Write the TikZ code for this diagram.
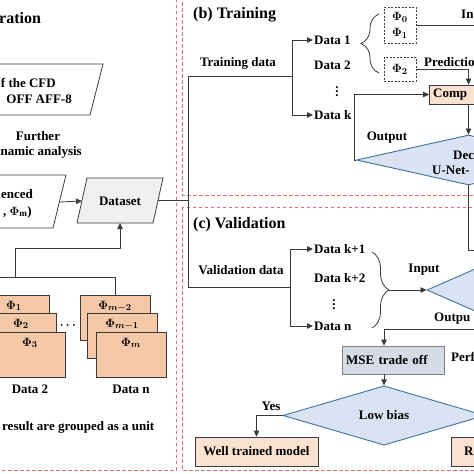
\documentclass[tikz,border=0pt]{standalone}
\usepackage{amsmath}
\usepackage{fontspec}
\setmainfont{Liberation Serif}
\usepackage{tikz}
\usetikzlibrary{arrows.meta, positioning, shapes.geometric, decorations.pathreplacing}

\definecolor{peach}{HTML}{FBE1D0}
\definecolor{phifill}{HTML}{F5C8A8}
\definecolor{diafill}{HTML}{DAE3F3}
\definecolor{diadraw}{HTML}{41719C}
\definecolor{msefill}{HTML}{D6DCE5}
\definecolor{panelred}{HTML}{E46C6C}
\definecolor{lineg}{HTML}{3A3A3A}

\begin{document}
\begin{tikzpicture}[x=1pt, y=-1pt, font=\fontsize{13}{16}\selectfont\bfseries\boldmath,
		panel/.style={draw=panelred, line width=0.8pt, dash pattern=on 3.5pt off 2.5pt},
		title/.style={font=\fontsize{16}{18}\selectfont\bfseries, anchor=west, inner sep=0pt},
		txt/.style={inner sep=1pt},
		para/.style={draw=lineg, line width=0.8pt},
		phibox/.style={draw=lineg, fill=phifill, line width=0.7pt, minimum width=70pt, text height=10pt, text depth=27pt, inner ysep=4pt},
		dashbox/.style={draw=lineg, dash pattern=on 2pt off 1.5pt, line width=0.7pt, minimum width=32pt, align=center, inner sep=2pt},
		process/.style={draw=lineg, fill=peach, line width=0.7pt},
		msebox/.style={draw=gray, fill=msefill, line width=0.7pt},
		decision/.style={draw=diadraw, fill=diafill, diamond, line width=0.9pt, inner sep=0pt},
		conn/.style={draw=lineg, line width=0.8pt},
		flow/.style={conn, -{Triangle[length=6pt, width=5.5pt]}}
		]
		\useasboundingbox (0,0) rectangle (474,474);
		
		\draw[panel] (-10,-10) rectangle (176,470);
		\draw[panel] (182,-10) rectangle (490,195);
		\draw[panel] (182,207) rectangle (490,470);
		
		\node [title](ta) at (-1,18) {ration};
		\node [title](tb) at (193,15) {(b) Training};
		\node [title](tc) at (193,225) {(c) Validation};
		
		\draw[para] (-20,64) -- (103,64) -- (90,115) -- (-30,115);
		\node [txt, anchor=east](cfd1) at (57,83) {f the CFD};
		\node [txt, anchor=east](cfd2) at (73,99) {OFF AFF-8};
		\node [txt](fur1) at (38,136) {Further};
		\node [txt, anchor=east](fur2) at (83,152) {ynamic analysis};
		
		\draw[para] (-20,175) -- (66,175) -- (53,228) -- (-30,228);
		\node [txt, anchor=east](seq1) at (34,194) {uenced};
		\node [txt, anchor=east](seq2) at (33,212) {, $\Phi_{\mathrm{m}}$)};
		\coordinate (seqE) at (59.5,202);
		
		\draw[para, fill=gray!12] (87,178) -- (163,178) -- (153,223) -- (77,223) -- cycle;
		\node [txt](dataset) at (120,201) {Dataset};
		\coordinate (dsW) at (82,201);
		\coordinate (dsE) at (158,200.5);
		\coordinate (dsS) at (120,223);
		\draw[flow] (seqE) -- (dsW);
		
		\node [phibox](p1) at (14,317.5) {$\Phi_1$};
		\node [phibox](p2) at (21,335.5) {$\Phi_2$};
		\node [phibox](p3) at (30,354.5) {$\Phi_3$};
		\node [phibox](pm2) at (115,317.5) {$\Phi_{m-2}$};
		\node [phibox](pm1) at (122,335.5) {$\Phi_{m-1}$};
		\node [phibox](pm) at (131,354.5) {$\Phi_m$};
		\node [txt, below=6pt of p3](d2lab) {Data 2};
		\node [txt, below=6pt of pm](dnlab) {Data n};
		\node [txt](dotsab) at (69,326) {$\cdots$};
		\node [txt, anchor=west](unit) at (1,427) {result are grouped as a unit};
		
		\coordinate (barL) at (-5,277);
		\coordinate (barJ) at (15,277);
		\coordinate (barT) at (120,248);
		\draw[conn] (pm2.north) |- (barL);
		\draw[flow] (barJ) |- (barT) -- (dsS);
		
		\coordinate (split) at (188,200.5);
		\coordinate (tsplit) at (292,76);
		\coordinate (vsplit) at (290,287);
		\draw[conn] (dsE) -- (split);
		\draw[conn] (split) |- (tsplit);
		\node [txt](trlab) at (238,63) {Training data};
		
		\node [txt, anchor=west](d1) at (313,40) {Data 1};
		\node [txt, anchor=west](d2) at (313,65) {Data 2};
		\node [txt](dv1) at (337,89) {$\vdots$};
		\node [txt, anchor=west](dk) at (313,115) {Data k};
		\draw[flow] (tsplit) |- (d1.west);
		\draw[flow] (tsplit) |- (dk.west);
		\draw[conn, decorate, decoration={brace, amplitude=18pt}] (379,73) -- (379,14);
		
		\node [dashbox, minimum height=36pt](phi01) at (400,25) {$\Phi_0$\\$\Phi_1$};
		\node [dashbox, minimum height=24pt](phi2) at (400,69) {$\Phi_2$};
		\coordinate (inR) at (480,25);
		\draw[conn] (phi01.east) -- (inR);
		\node [txt, anchor=west](inlab) at (460,14) {In};
		\node [txt, anchor=west](predlab) at (423,62) {Predictio};
		
		\node [process, minimum width=78pt, minimum height=19pt](comp) at (468.5,94.5) {};
		\node [txt, anchor=west](complab) at (432,94.5) {Comp};
		\draw[flow] (phi2.east) -| (comp.north);
		\node [decision, minimum width=224pt, minimum height=50pt](dec) at (468.5,160) {};
		\node [txt, anchor=west](declab1) at (452,155) {Dec};
		\node [txt, anchor=west](declab2) at (431,170) {U-Net-};
		\draw[flow] (comp.south) -- (dec.north);
		\coordinate (outT) at (354,160);
		\draw[flow] (dec.west) -- (outT) |- (comp.west);
		\node [txt](outlab) at (387,138) {Output};
		\coordinate (modT) at (518,250);
		\draw[conn] (dec.south) |- (modT);
		
		\draw[conn] (split) |- (vsplit);
		\node [txt](valab) at (241,270) {Validation data};
		\node [txt, anchor=west](dk1) at (313,249) {Data k+1};
		\node [txt, anchor=west](dk2) at (313,278) {Data k+2};
		\node [txt](dv2) at (334,302) {$\vdots$};
		\node [txt, anchor=west](dn) at (313,326) {Data n};
		\draw[flow] (vsplit) |- (dk1.west);
		\draw[flow] (vsplit) |- (dn.west);
		\draw[conn, decorate, decoration={brace, amplitude=17pt}] (372,252) -- (372,328);
		
		\coordinate (vbr) at (389,290);
		\node [decision, minimum width=182pt, minimum height=80pt](val) at (518,290) {};
		\draw[flow] (vbr) -- (val.west);
		\node [txt](inlab2) at (424,270) {Input};
		
		\node [msebox, minimum width=102pt, minimum height=28pt, text width=94pt, align=left](mse) at (393,360) {MSE trade off};
		\node [txt, anchor=west](perflab) at (450,357) {Perf};
		\node [decision, minimum width=202pt, minimum height=49pt](lowb) at (384,415.5) {Low bias};
		\coordinate (outB) at (480,329);
		\draw[flow] (outB) -| (mse.north -| lowb.north);
		\node [txt, anchor=west](outlab2) at (433,319) {Outpu};
		\draw[flow] (mse.south -| lowb.north) -- (lowb.north);
		
		\node [process, minimum width=123pt, minimum height=29pt](well) at (256.5,451.5) {Well trained model};
		\draw[flow] (lowb.west) -| (well.north);
		\node [txt](yes) at (271,406) {Yes};
		\node [process, minimum width=100pt, minimum height=29pt, anchor=west](rbox) at (451,451.5) {};
		\node [txt, anchor=west](rlab) at (463,451.5) {R};
		
	\end{tikzpicture}
\end{document}
